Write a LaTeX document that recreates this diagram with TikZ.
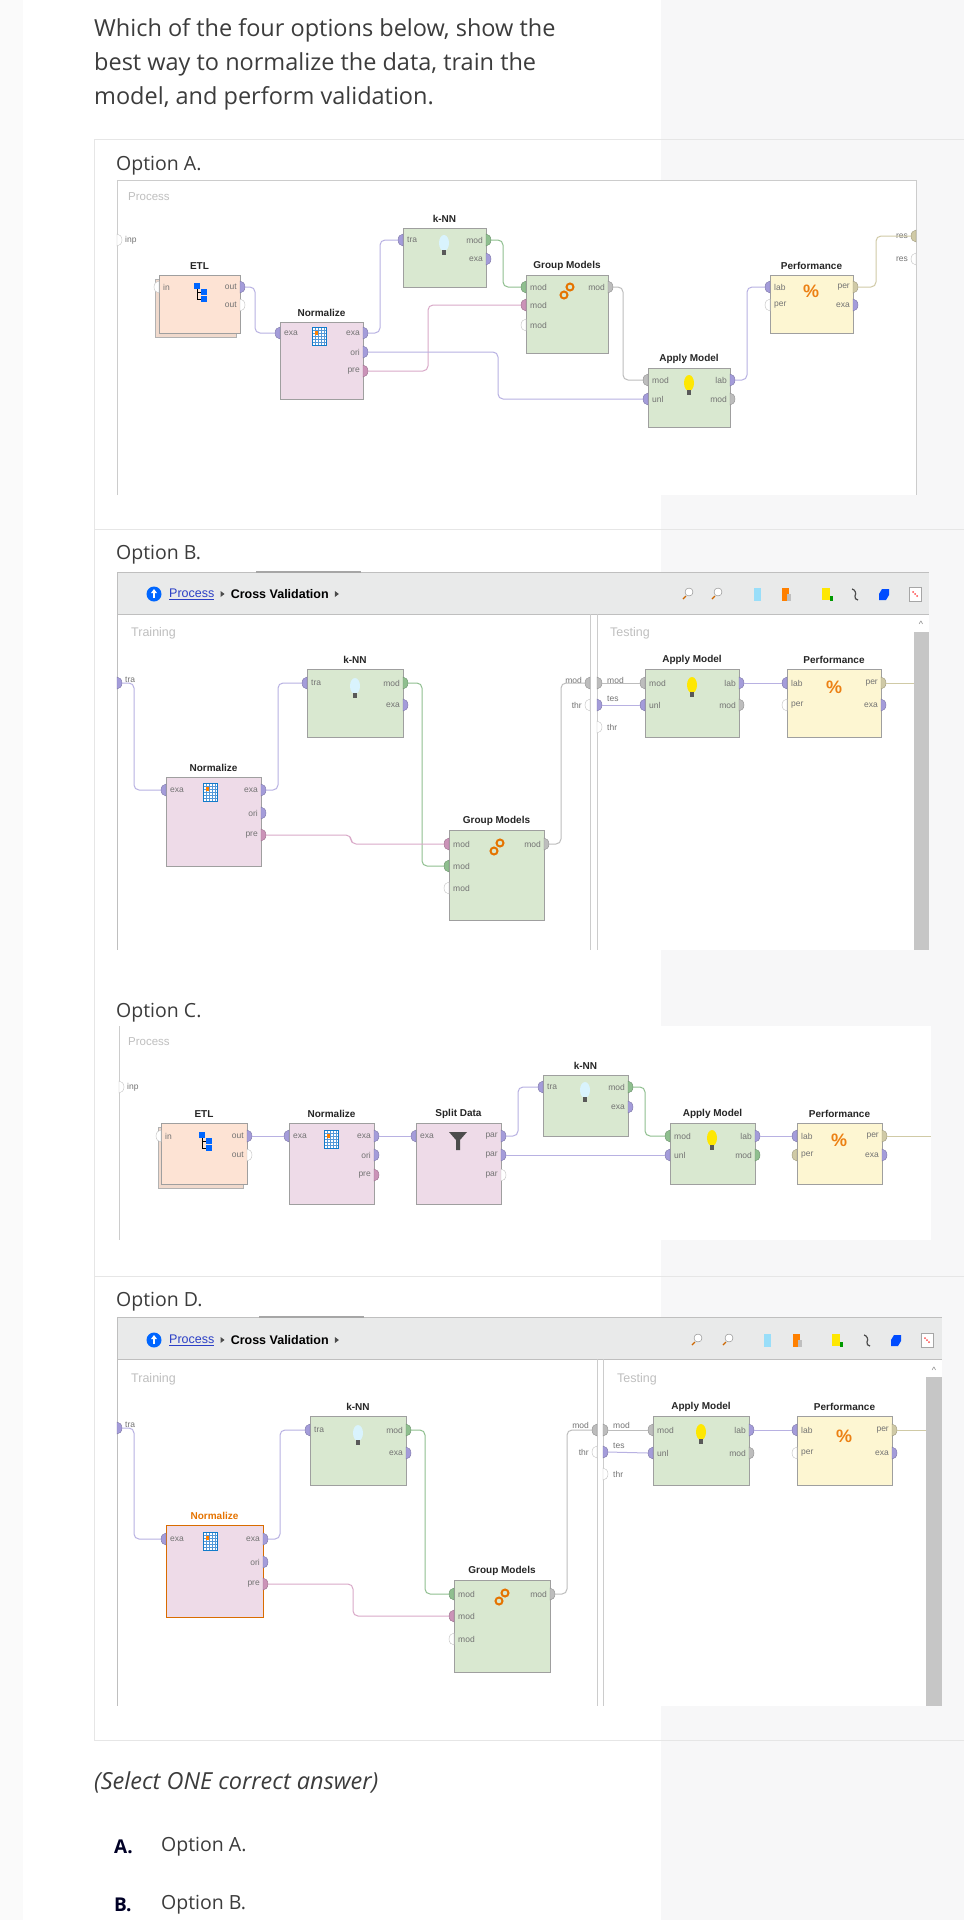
\documentclass[tikz,border=0pt]{standalone}
\usepackage{fontspec}
\setmainfont{Open Sans}
\newfontfamily\dia{Liberation Sans}
\usetikzlibrary{calc}
\definecolor{pp}{HTML}{A49CDA}
\definecolor{ppl}{HTML}{B8B1E2}
\definecolor{gp}{HTML}{8FBF8F}
\definecolor{kp}{HTML}{CB93B8}
\definecolor{kpl}{HTML}{D9A9C8}
\definecolor{yp}{HTML}{BDBDBD}
\definecolor{tp}{HTML}{D0CAA6}
\definecolor{wp}{HTML}{FFFFFF}
\definecolor{fgreen}{HTML}{D9E8D0}
\definecolor{fpink}{HTML}{EEDBE8}
\definecolor{fpeach}{HTML}{FDE3D4}
\definecolor{fyel}{HTML}{FDF6D2}
\definecolor{txt}{HTML}{3C3C3C}
\definecolor{colbg}{HTML}{F7F7F8}
\definecolor{cardl}{HTML}{E6E6E6}
\definecolor{tbar}{HTML}{E9EAEA}
\definecolor{linkb}{HTML}{2B3FC6}
\newcommand\bx[8][gray!75]{\node[draw=#1,line width=0.8pt,fill=#7,minimum width={#5-#3},minimum height={#6-#4},inner sep=0pt,anchor=north west] (#2) at (#3,#4) {};
 \node[blbl] at ({(#3+#5)/2},{#4-9}) {#8};}
\newcommand\pR[5]{\filldraw[fill=#4,draw=#4!75!black,line width=0.4pt] (#2,#3) ++(0pt,-6pt) arc[start angle=-90,end angle=90,x radius=5pt,y radius=6pt] -- cycle;
 \coordinate (#1) at ($(#2,#3)+(5pt,0pt)$);
 \node[plbl,anchor=east] at ($(#2,#3)+(-3pt,0pt)$) {#5};}
\newcommand\pL[5]{\filldraw[fill=#4,draw=#4!75!black,line width=0.4pt] (#2,#3) ++(0pt,6pt) arc[start angle=90,end angle=270,x radius=5pt,y radius=6pt] -- cycle;
 \coordinate (#1) at ($(#2,#3)+(-5pt,0pt)$);
 \node[plbl,anchor=west] at ($(#2,#3)+(4pt,0pt)$) {#5};}
\newcommand\cn[4]{\draw[#1,line width=1pt,rounded corners=5pt] (#2) -- ++(#4,0) |- (#3);}
\newcommand\cs[3]{\draw[#1,line width=1pt] (#2) -- (#3);}
\newcommand\bulb[3]{\fill[#3] (#1,#2) ellipse[x radius=5pt,y radius=8pt]; \fill[gray!70!black] ($(#1,#2)+(-2pt,-7pt)$) rectangle ($(#1,#2)+(2pt,-12pt)$);}
\newcommand\gridic[2]{\fill[white] (#1,#2) rectangle ($(#1,#2)+(14pt,-18pt)$);\draw[cyan!60!blue!70,line width=0.5pt,step=3pt,shift={(#1,#2)}] (0pt,0pt) grid (14pt,-18pt); \draw[cyan!60!blue] (#1,#2) rectangle ($(#1,#2)+(14pt,-18pt)$);\fill[orange] ($(#1,#2)+(3pt,-4pt)$) rectangle ($(#1,#2)+(6pt,-8pt)$);}
\newcommand\linkic[2]{\draw[orange!90!black,line width=2pt] ($(#1,#2)+(3pt,4pt)$) circle[radius=3.5pt] ($(#1,#2)+(-3pt,-4pt)$) circle[radius=3.5pt];}
\newcommand\pctic[2]{\node[text=orange!70!brown,font=\dia\bfseries\fontsize{18}{18}\selectfont] at (#1,#2) {\%};}
\newcommand\etlic[2]{\fill[blue!60!cyan] ($(#1,#2)+(-6pt,9pt)$) rectangle ++(6pt,-6pt); \draw[black] ($(#1,#2)+(-3pt,3pt)$) |- ($(#1,#2)+(2pt,0pt)$) ($(#1,#2)+(-3pt,0pt)$) |- ($(#1,#2)+(2pt,-7pt)$); \fill[blue!60!cyan] ($(#1,#2)+(1pt,3pt)$) rectangle ++(6pt,-6pt); \fill[blue!60!cyan] ($(#1,#2)+(1pt,-4pt)$) rectangle ++(6pt,-6pt);}
\newcommand\funic[2]{\fill[gray!60!black] ($(#1,#2)+(-9pt,8pt)$) -- ($(#1,#2)+(9pt,8pt)$) -- ($(#1,#2)+(2pt,0pt)$) -- ($(#1,#2)+(2pt,-10pt)$) -- ($(#1,#2)+(-2pt,-10pt)$) -- ($(#1,#2)+(-2pt,0pt)$) -- cycle;}
\newcommand\crumb[2]{\fill[blue!60!cyan] (#1,#2) circle[radius=7.5pt]; \draw[white,line width=1.5pt] ($(#1,#2)+(0pt,-4pt)$) -- ($(#1,#2)+(0pt,4pt)$); \fill[white] ($(#1,#2)+(-3pt,1pt)$) -- ($(#1,#2)+(3pt,1pt)$) -- ($(#1,#2)+(0pt,5pt)$) -- cycle;
 \node[anchor=west,text=linkb,font=\dia\fontsize{12.5}{13}\selectfont,inner sep=0pt] (pr) at ($(#1,#2)+(15pt,0pt)$) {\underline{Process}};
 \node[anchor=west,font=\dia\bfseries\fontsize{12.5}{13}\selectfont,inner sep=0pt] (cv) at ($(pr.east)+(16pt,0pt)$) {Cross Validation};
 \fill[black!70] ($(pr.east)+(6pt,3pt)$) -- ++(4pt,-3pt) -- ++(-4pt,-3pt) -- cycle;
 \fill[black!70] ($(cv.east)+(6pt,3pt)$) -- ++(4pt,-3pt) -- ++(-4pt,-3pt) -- cycle;}
\newcommand\tbicons[9]{%
 \draw[orange!80!black,line width=1.2pt] ($(#1,#9)+(-4pt,-5pt)$) -- ($(#1,#9)+(-1pt,-2pt)$); \draw[gray,fill=white] ($(#1,#9)+(2pt,2pt)$) circle[radius=4pt];
 \draw[orange!80!black,line width=1.2pt] ($(#2,#9)+(-4pt,-5pt)$) -- ($(#2,#9)+(-1pt,-2pt)$); \draw[gray,fill=white] ($(#2,#9)+(2pt,2pt)$) circle[radius=4pt];
 \fill[cyan!40] ($(#3,#9)+(-3pt,6pt)$) rectangle ($(#3,#9)+(4pt,-7pt)$);
 \fill[orange] ($(#4,#9)+(-4pt,6pt)$) rectangle ($(#4,#9)+(3pt,-7pt)$); \fill[gray!50] ($(#4,#9)+(1pt,0pt)$) rectangle ($(#4,#9)+(5pt,-7pt)$);
 \fill[yellow!90!orange] ($(#5,#9)+(-5pt,6pt)$) rectangle ($(#5,#9)+(3pt,-6pt)$); \fill[green!60!black] ($(#5,#9)+(3pt,-2pt)$) rectangle ++(3pt,-5pt);
 \draw[gray!60!black,line width=1.2pt] ($(#6,#9)+(-3pt,5pt)$) to[bend left=60] ($(#6,#9)+(0pt,-2pt)$) to[bend right=60] ($(#6,#9)+(3pt,-6pt)$);
 \fill[blue!70!cyan] ($(#7,#9)+(-5pt,-6pt)$) -- ++(7pt,0pt) -- ++(3pt,5pt) -- ++(0pt,6pt) -- ++(-7pt,0pt) -- ++(-3pt,-5pt) -- cycle;
 \draw[gray!70,fill=white] ($(#8,#9)+(-6pt,7pt)$) rectangle ($(#8,#9)+(6pt,-7pt)$); \fill[red!70] ($(#8,#9)+(-2pt,2pt)$) circle[radius=1pt] ($(#8,#9)+(2pt,-2pt)$) circle[radius=1pt] ($(#8,#9)+(0pt,0pt)$) circle[radius=1pt];}
\tikzset{
 blbl/.style={font=\dia\bfseries\fontsize{10}{11}\selectfont,text=black!85,inner sep=0pt},
 plbl/.style={font=\dia\fontsize{8.5}{9}\selectfont,text=black!55,inner sep=0pt},
 glbl/.style={font=\dia\fontsize{12.5}{13}\selectfont,text=black!25,inner sep=0pt,anchor=west},
 body/.style={font=\fontsize{23.5}{28}\selectfont,text=txt,anchor=west,inner sep=0pt},
 opt/.style={font=\fontsize{19.5}{24}\selectfont,text=txt,anchor=west,inner sep=0pt},
 pl/.style={draw=ppl}, gl/.style={draw=gp}, kl/.style={draw=kpl}, yl/.style={draw=yp}, tl/.style={draw=tp}
}
\begin{document}
\begin{tikzpicture}[x=1pt,y=-1pt]
\useasboundingbox (0,0) rectangle (964,1920);
\fill[white] (0,0) rectangle (964,1920);
\fill[colbg] (661,0) rectangle (964,1920);
\fill[gray!4] (0,0) rectangle (23,1920);
% question
\node[body] (q1) at (94,30) {Which of the four options below, show the};
\node[body] (q2) at (94,64) {best way to normalize the data, train the};
\node[body] (q3) at (94,98) {model, and perform validation.};
% card
\draw[cardl,line width=1pt] (94,139) -- (964,139) (94,529) -- (964,529) (94,1276) -- (964,1276) (94,1740) -- (964,1740) (94,139) -- (94,1740);
% ================= Option A
\node[opt] (oa) at (116,166) {Option A.};
\fill[white] (117,180) rectangle (916,495);
\draw[gray!40,line width=0.8pt] (117,495) -- (117,180) -- (916,180) -- (916,495);
\node[glbl,font=\dia\fontsize{11.5}{12}\selectfont] at (128,197) {Process};
\pR{ainp}{117}{240}{wp}{}\node[plbl,anchor=west] at (125,240) {inp};
\draw[gray!60,fill=fpeach!90!gray] (155,279) rectangle (236,337);
\bx{aetl}{159}{275}{240}{333}{fpeach}{ETL}
\etlic{200}{292}
\pL{aetlin}{159}{287}{wp}{in}\pR{aetlo1}{240}{287}{pp}{out}\pR{aetlo2}{240}{305}{wp}{out}
\bx{anorm}{280}{322}{363}{399}{fpink}{Normalize}
\gridic{312}{327}
\pL{anormi}{280}{333}{pp}{exa}\pR{anormo}{363}{333}{pp}{exa}\pR{anormori}{363}{352}{pp}{ori}\pR{anormpre}{363}{371}{kp}{pre}
\bx{aknn}{403}{228}{486}{287}{fgreen}{k-NN}
\bulb{444}{243}{cyan!15}
\pL{aknni}{403}{240}{pp}{tra}\pR{aknnm}{486}{240}{gp}{mod}\pR{aknne}{486}{259}{pp}{exa}
\bx{agm}{526}{275}{608}{353}{fgreen}{Group Models}
\linkic{567}{291}
\pL{agm1}{526}{287}{gp}{mod}\pL{agm2}{526}{305}{kp}{mod}\pL{agm3}{526}{325}{wp}{mod}\pR{agmo}{608}{287}{yp}{mod}
\bx{aam}{648}{368}{730}{427}{fgreen}{Apply Model}
\bulb{689}{383}{yellow!90!orange}
\pL{aamm}{648}{380}{yp}{mod}\pL{aamu}{648}{399}{pp}{unl}\pR{aaml}{730}{380}{pp}{lab}\pR{aamo}{730}{399}{yp}{mod}
\bx{aperf}{770}{275}{853}{333}{fyel}{Performance}
\pctic{811}{291}
\pL{apl}{770}{287}{pp}{lab}\pL{app}{770}{305}{wp}{per}\pR{apo}{853}{287}{tp}{per}\pR{ape}{853}{305}{pp}{exa}
\pL{ares1}{916}{236}{tp}{}\pL{ares2}{916}{259}{wp}{}
\node[plbl,anchor=east] at (908,236) {res};\node[plbl,anchor=east] at (908,259) {res};
\cn{pl}{aetlo1}{anormi}{10}
\cn{pl}{anormo}{aknni}{12}
\cn{gl}{aknnm}{agm1}{12}
\cn{kl}{anormpre}{agm2}{60}
\cn{pl}{anormori}{aamu}{130}
\cn{yl}{agmo}{aamm}{10}
\cn{pl}{aaml}{apl}{12}
\cn{tl}{apo}{ares1}{18}
% ================= Option B
\node[opt] (ob) at (116,555) {Option B.};
\fill[white] (117,614) rectangle (929,950);
\fill[tbar] (117,572) rectangle (929,614);
\draw[gray!50] (117,572) -- (929,572); \draw[gray!70,line width=1.5pt] (256,572) -- (361,572);
\draw[gray!50] (117,614) -- (929,614); \draw[gray!50] (117,572) -- (117,950);
\crumb{154}{594}
\tbicons{687}{716}{757}{786}{827}{855}{884}{915}{594}
\draw[gray!40] (590,614) -- (590,950) (597,614) -- (597,950);
\fill[gray!45] (914,632) rectangle (929,950);
\node[font=\dia\fontsize{9}{9}\selectfont,text=gray] at (921,624) {\textasciicircum};
\node[glbl] at (131,633) {Training};\node[glbl] at (610,633) {Testing};
\pR{btra}{117}{683}{pp}{}\node[plbl,anchor=west] at (125,680) {tra};
\bx{bknn}{307}{669}{403}{737}{fgreen}{k-NN}
\bulb{355}{686}{cyan!15}
\pL{bknni}{307}{683}{pp}{tra}\pR{bknnm}{403}{683}{gp}{mod}\pR{bknne}{403}{705}{pp}{exa}
\bx{bnorm}{166}{777}{261}{866}{fpink}{Normalize}
\gridic{203}{783}
\pL{bnormi}{166}{790}{pp}{exa}\pR{bnormo}{261}{790}{pp}{exa}\pR{bnormori}{261}{813}{pp}{ori}\pR{bnormpre}{261}{835}{kp}{pre}
\bx{bgm}{449}{830}{544}{920}{fgreen}{Group Models}
\linkic{497}{847}
\pL{bgm1}{449}{844}{kp}{mod}\pL{bgm2}{449}{866}{gp}{mod}\pL{bgm3}{449}{888}{wp}{mod}\pR{bgmo}{544}{844}{yp}{mod}
\pL{bdlm}{590}{683}{yp}{}\pL{bdlt}{590}{705}{wp}{}
\node[plbl,anchor=east] at (582,680) {mod};\node[plbl,anchor=east] at (582,705) {thr};
\pR{bdrm}{597}{683}{yp}{}\pR{bdrt}{597}{705}{pp}{}\pR{bdrh}{597}{727}{wp}{}
\node[plbl,anchor=west] at (607,680) {mod};\node[plbl,anchor=west] at (607,699) {tes};\node[plbl,anchor=west] at (607,727) {thr};
\bx{bam}{645}{669}{739}{737}{fgreen}{Apply Model}
\bulb{692}{685}{yellow!90!orange}
\pL{bamm}{645}{683}{yp}{mod}\pL{bamu}{645}{705}{pp}{unl}\pR{baml}{739}{683}{pp}{lab}\pR{bamo}{739}{705}{yp}{mod}
\bx{bperf}{787}{669}{881}{737}{fyel}{Performance}
\pctic{834}{687}
\pL{bpl}{787}{683}{pp}{lab}\pL{bpp}{787}{705}{wp}{per}\pR{bpo}{881}{683}{tp}{per}\pR{bpe}{881}{705}{pp}{exa}
\coordinate (bend) at (914,683);
\cn{pl}{btra}{bnormi}{12}
\cn{pl}{bnormo}{bknni}{12}
\cn{gl}{bknnm}{bgm2}{14}
\cn{kl}{bnormpre}{bgm1}{85}
\cn{yl}{bgmo}{bdlm}{12}
\cs{yl}{bdrm}{bamm}
\cs{pl}{bdrt}{bamu}
\cs{pl}{baml}{bpl}
\cs{tl}{bpo}{bend}
% ================= Option C
\node[opt] (oc) at (116,1013) {Option C.};
\fill[white] (119,1026) rectangle (931,1240);
\draw[gray!40,line width=0.8pt] (119,1026) -- (119,1240);
\node[glbl,font=\dia\fontsize{11.5}{12}\selectfont] at (128,1042) {Process};
\pR{cinp}{119}{1087}{wp}{}\node[plbl,anchor=west] at (127,1087) {inp};
\draw[gray!60,fill=fpeach!90!gray] (158,1127) rectangle (243,1188);
\bx{cetl}{161}{1123}{247}{1184}{fpeach}{ETL}
\etlic{205}{1141}
\pL{cetlin}{161}{1136}{wp}{in}\pR{cetlo1}{247}{1136}{pp}{out}\pR{cetlo2}{247}{1155}{wp}{out}
\bx{cnorm}{289}{1123}{374}{1204}{fpink}{Normalize}
\gridic{324}{1130}
\pL{cnormi}{289}{1136}{pp}{exa}\pR{cnormo}{374}{1136}{pp}{exa}\pR{cnormori}{374}{1155}{pp}{ori}\pR{cnormpre}{374}{1175}{kp}{pre}
\bx{csplit}{416}{1123}{501}{1204}{fpink}{Split Data}
\funic{458}{1140}
\pL{csplti}{416}{1136}{pp}{exa}\pR{cspl1}{501}{1136}{pp}{par}\pR{cspl2}{501}{1155}{pp}{par}\pR{cspl3}{501}{1175}{wp}{par}
\bx{cknn}{543}{1075}{628}{1136}{fgreen}{k-NN}
\bulb{585}{1090}{cyan!15}
\pL{cknni}{543}{1087}{pp}{tra}\pR{cknnm}{628}{1087}{gp}{mod}\pR{cknne}{628}{1107}{pp}{exa}
\bx{cam}{670}{1123}{755}{1184}{fgreen}{Apply Model}
\bulb{712}{1138}{yellow!90!orange}
\pL{camm}{670}{1136}{gp}{mod}\pL{camu}{670}{1155}{pp}{unl}\pR{caml}{755}{1136}{pp}{lab}\pR{camo}{755}{1155}{gp}{mod}
\bx{cperf}{797}{1123}{882}{1184}{fyel}{Performance}
\pctic{839}{1140}
\pL{cpl}{797}{1136}{pp}{lab}\pL{cpp}{797}{1155}{tp}{per}\pR{cpo}{882}{1136}{tp}{per}\pR{cpe}{882}{1155}{pp}{exa}
\coordinate (cend) at (931,1136);
\cs{pl}{cetlo1}{cnormi}
\cs{pl}{cnormo}{csplti}
\cn{pl}{cspl1}{cknni}{12}
\cs{pl}{cspl2}{camu}
\cn{gl}{cknnm}{camm}{12}
\cs{pl}{caml}{cpl}
\cs{tl}{cpo}{cend}
% ================= Option D
\node[opt] (od) at (116,1302) {Option D.};
\fill[white] (117,1359) rectangle (942,1706);
\fill[tbar] (117,1317) rectangle (942,1359);
\draw[gray!50] (117,1317) -- (942,1317); \draw[gray!70,line width=1.5pt] (259,1317) -- (364,1317);
\draw[gray!50] (117,1359) -- (942,1359); \draw[gray!50] (117,1317) -- (117,1706);
\crumb{154}{1340}
\tbicons{696}{727}{767}{797}{837}{867}{896}{927}{1340}
\draw[gray!40] (597,1359) -- (597,1706) (603,1359) -- (603,1706);
\fill[gray!45] (926,1377) rectangle (942,1706);
\node[font=\dia\fontsize{9}{9}\selectfont,text=gray] at (934,1370) {\textasciicircum};
\node[glbl] at (131,1379) {Training};\node[glbl] at (617,1379) {Testing};
\pR{dtra}{117}{1428}{pp}{}\node[plbl,anchor=west] at (125,1425) {tra};
\bx{dknn}{310}{1416}{406}{1485}{fgreen}{k-NN}
\bulb{358}{1433}{cyan!15}
\pL{dknni}{310}{1430}{pp}{tra}\pR{dknnm}{406}{1430}{gp}{mod}\pR{dknne}{406}{1453}{pp}{exa}
\bx[orange!85!black]{dnorm}{166}{1525}{263}{1617}{fpink}{\textcolor{orange!90!black}{Normalize}}
\gridic{203}{1532}
\pL{dnormi}{166}{1539}{pp}{exa}\pR{dnormo}{263}{1539}{pp}{exa}\pR{dnormori}{263}{1562}{pp}{ori}\pR{dnormpre}{263}{1584}{kp}{pre}
\bx{dgm}{454}{1580}{550}{1672}{fgreen}{Group Models}
\linkic{502}{1597}
\pL{dgm1}{454}{1594}{gp}{mod}\pL{dgm2}{454}{1616}{kp}{mod}\pL{dgm3}{454}{1639}{wp}{mod}\pR{dgmo}{550}{1594}{yp}{mod}
\pL{ddlm}{597}{1430}{yp}{}\pL{ddlt}{597}{1452}{wp}{}
\node[plbl,anchor=east] at (589,1425) {mod};\node[plbl,anchor=east] at (589,1452) {thr};
\pR{ddrm}{603}{1430}{yp}{}\pR{ddrt}{603}{1452}{pp}{}\pR{ddrh}{603}{1474}{wp}{}
\node[plbl,anchor=west] at (613,1425) {mod};\node[plbl,anchor=west] at (613,1446) {tes};\node[plbl,anchor=west] at (613,1474) {thr};
\bx{dam}{653}{1416}{749}{1485}{fgreen}{Apply Model}
\bulb{701}{1432}{yellow!90!orange}
\pL{damm}{653}{1430}{yp}{mod}\pL{damu}{653}{1453}{pp}{unl}\pR{daml}{749}{1430}{pp}{lab}\pR{damo}{749}{1453}{yp}{mod}
\bx{dperf}{797}{1416}{892}{1485}{fyel}{Performance}
\pctic{844}{1436}
\pL{dpl}{797}{1430}{pp}{lab}\pL{dpp}{797}{1453}{wp}{per}\pR{dpo}{892}{1430}{tp}{per}\pR{dpe}{892}{1453}{pp}{exa}
\coordinate (dend) at (926,1430);
\cn{pl}{dtra}{dnormi}{12}
\cn{pl}{dnormo}{dknni}{12}
\cn{gl}{dknnm}{dgm1}{14}
\cn{kl}{dnormpre}{dgm2}{85}
\cn{yl}{dgmo}{ddlm}{12}
\cs{yl}{ddrm}{damm}
\cs{pl}{ddrt}{damu}
\cs{pl}{daml}{dpl}
\cs{tl}{dpo}{dend}
% answers
\node[body,font=\itshape\fontsize{23.5}{28}\selectfont] (sel) at (94,1782) {(Select ONE correct answer)};
\node[body,font=\bfseries\fontsize{19}{24}\selectfont,text=black!85!blue] (la) at (114,1847) {A.};
\node[opt] (aa) at (161,1847) {Option A.};
\node[body,font=\bfseries\fontsize{19}{24}\selectfont,text=black!85!blue] (lb) at (114,1905) {B.};
\node[opt] (ab) at (161,1905) {Option B.};
\end{tikzpicture}
\end{document}
